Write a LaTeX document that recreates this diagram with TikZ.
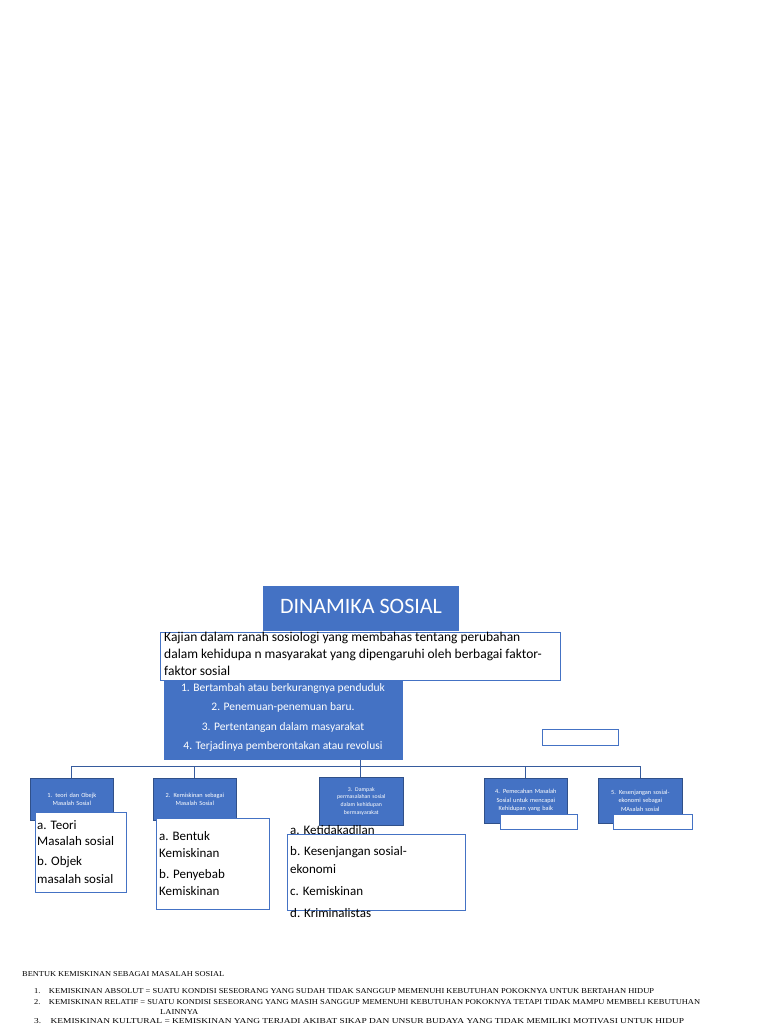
\documentclass[tikz,border=0pt]{standalone}
\usepackage{fontspec}
\setmainfont{Carlito}
\newfontfamily\serifb{Liberation Serif}
\definecolor{bl}{HTML}{4472C4}
\begin{document}
\begin{tikzpicture}[x=1pt,y=-1pt,
  bbox/.style={fill=bl,draw=bl!70!black,line width=0.6pt,text=white,align=center,inner sep=1pt},
  wbox/.style={fill=white,draw=bl,line width=0.8pt},
  conn/.style={draw=bl!80!black,line width=1pt},
  tiny/.style={font=\fontsize{6.3}{8.5}\selectfont},
  itm/.style={font=\fontsize{13}{16}\selectfont,anchor=west,inner sep=0pt},
  btxt/.style={font=\serifb\fontsize{6}{7}\selectfont,anchor=west,inner sep=0pt}]
\useasboundingbox (0,0) rectangle (768,1024);
\fill[white] (0,0) rectangle (768,1024);
% title
\fill[bl] (263,586) rectangle (459,631);
\node[text=white,font=\fontsize{22}{24}\selectfont] (tt) at (361,606) {DINAMIKA SOSIAL};
% description
\draw[wbox] (160,632) rectangle (560,680);
\node[anchor=north west,inner sep=0pt,align=left,font=\fontsize{13.5}{17}\selectfont] (desc) at (164,632)
 {Kajian dalam ranah sosiologi yang membahas tentang perubahan\\dalam kehidupa n masyarakat yang dipengaruhi oleh berbagai faktor-\\faktor sosial};
% list box
\fill[bl] (164,680) rectangle (403,760);
\coordinate (lb) at (360,760);
\foreach \t/\y in {1. Bertambah atau berkurangnya penduduk/688,2. Penemuan-penemuan baru./707,3. Pertentangan dalam masyarakat/727,4. Terjadinya pemberontakan atau revolusi/746}
  \node[text=white,font=\fontsize{11.5}{13}\selectfont] at (283,\y) {\t};
% empty box
\draw[wbox] (542,729) rectangle (618,745);
% connectors
\coordinate (hl) at (71,766); \coordinate (hr) at (640,766); \coordinate (hm) at (360,766);
\draw[conn] (hl) -- (hr);
\draw[conn] (lb) -- (hm);
\foreach \x in {71,194,525,640} \draw[conn] (\x,766) -- (\x,778);
\draw[conn] (360,766) -- (360,777);
% children
\node[bbox,tiny,minimum width=83pt,minimum height=42pt,text width=80pt,anchor=north west] (c1) at (30,778) {1. teori dan Obejk\\Masalah Sosial};
\node[bbox,tiny,minimum width=83pt,minimum height=42pt,text width=80pt,anchor=north west] (c2) at (153,778) {2. Kemiskinan sebagai\\Masalah Sosial};
\node[bbox,minimum width=84pt,minimum height=48pt,text width=80pt,anchor=north west,font=\fontsize{5.8}{7.8}\selectfont] (c3) at (319,777) {3. Dampak\\permasalahan sosial\\dalam kehidupan\\bermasyarakat};
\node[bbox,tiny,minimum width=83pt,minimum height=45pt,text width=80pt,anchor=north west] (c4) at (484,778) {4. Pemecahan Masalah\\Sosial untuk mencapai\\Kehidupan yang baik};
\node[bbox,tiny,minimum width=84pt,minimum height=45pt,text width=80pt,anchor=north west] (c5) at (598,778) {5. Kesenjangan sosial-\\ekonomi sebagai\\MAsalah sosial};
% white boxes
\draw[wbox] (35,812) rectangle (126,892);
\draw[wbox] (156,818) rectangle (269,909);
\draw[wbox] (287,834) rectangle (465,910);
\draw[wbox] (500,814) rectangle (577,829);
\draw[wbox] (613,814) rectangle (692,829);
\foreach \t/\y in {a. Teori/825,Masalah sosial/841,b. Objek/862,masalah sosial/879} \node[itm] at (37,\y) {\t};
\foreach \t/\y in {a. Bentuk/836,Kemiskinan/853,b. Penyebab/875,Kemiskinan/891} \node[itm] at (159,\y) {\t};
\foreach \t/\y in {a. Ketidakadilan/830,b. Kesenjangan sosial-/852,ekonomi/869,c. Kemiskinan/891,d. Kriminalistas/913} \node[itm] at (290,\y) {\t};
% bottom text
\node[btxt] (h) at (22,974) {\resizebox{202pt}{5pt}{BENTUK KEMISKINAN SEBAGAI MASALAH SOSIAL}};
\node[btxt] at (34,991) {\resizebox{620pt}{5pt}{1.\quad KEMISKINAN ABSOLUT = SUATU KONDISI SESEORANG YANG SUDAH TIDAK SANGGUP MEMENUHI KEBUTUHAN POKOKNYA UNTUK BERTAHAN HIDUP}};
\node[btxt] at (34,1002) {\resizebox{666pt}{5pt}{2.\quad KEMISKINAN RELATIF = SUATU KONDISI SESEORANG YANG MASIH SANGGUP MEMENUHI KEBUTUHAN POKOKNYA TETAPI TIDAK MAMPU MEMBELI KEBUTUHAN}};
\node[btxt] at (160,1012) {\resizebox{38pt}{5pt}{LAINNYA}};
\node[btxt] at (34,1021) {\resizebox{650pt}{5pt}{3.\quad KEMISKINAN KULTURAL = KEMISKINAN YANG TERJADI AKIBAT SIKAP DAN UNSUR BUDAYA YANG TIDAK MEMILIKI MOTIVASI UNTUK HIDUP}};
\end{tikzpicture}
\end{document}
